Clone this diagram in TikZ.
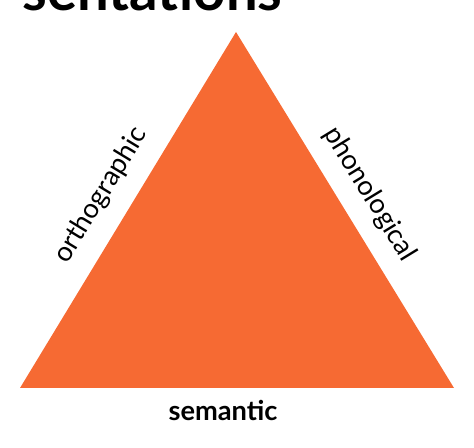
\documentclass[tikz,border=0pt]{standalone}
\usepackage{fontspec}
\setmainfont{Lato}
\usepackage{tikz}
\usetikzlibrary{positioning}
\definecolor{tri}{RGB}{246,106,51}

\begin{document}
\begin{tikzpicture}[x=0.02cm,y=-0.02cm,
    side/.style={font=\fontsize{15.5}{18}\selectfont,inner sep=0pt},
    base/.style={font=\fontsize{15.5}{18}\selectfont\bfseries,inner sep=0pt},
    head/.style={font=\fontsize{32}{36}\selectfont\bfseries,inner sep=0pt,anchor=base west}]
  \useasboundingbox (0,0) rectangle (474,448);
  \clip (0,0) rectangle (474,448);
  \node[head](title) at (22,11){sentations};
  \coordinate(top) at (236,32);
  \coordinate(left) at (20,388);
  \coordinate(right) at (454,388);
  \fill[tri](top)--(left)--(right)--cycle;
  \node[side,rotate=58.7](orth) at (101,195){orthographic};
  \node[side,rotate=-58.6](phon) at (370,194){phonological};
  \node[base,anchor=base](sem) at (223,421){semantic};
\end{tikzpicture}
\end{document}
